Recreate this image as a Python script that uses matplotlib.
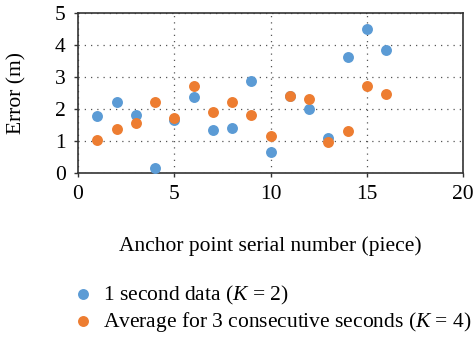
import matplotlib
matplotlib.use("Agg")
import matplotlib.pyplot as plt
from matplotlib.ticker import MultipleLocator

anchor = list(range(1, 17))
one_second = [1.79, 2.22, 1.82, 0.16, 1.64, 2.38, 1.35, 1.40, 2.86, 0.67, 2.39, 1.99, 1.10, 3.63, 4.48, 3.85]
avg_three = [1.04, 1.37, 1.56, 2.22, 1.72, 2.70, 1.90, 2.23, 1.80, 1.14, 2.39, 2.32, 0.97, 1.32, 2.70, 2.45]

plt.rcParams['font.family'] = ['Liberation Serif', 'DejaVu Serif']
plt.rcParams['mathtext.fontset'] = 'custom'
plt.rcParams['mathtext.it'] = 'Liberation Serif:italic'
plt.rcParams['mathtext.rm'] = 'Liberation Serif'

fig = plt.figure(figsize=(4.74, 3.38), dpi=100)
ax = fig.add_axes([78/474, 1 - 173/338, (463-78)/474, (173-12.7)/338])

blue = '#5B9BD5'
orange = '#ED7D31'
ax.scatter(anchor, one_second, s=62, color=blue, zorder=3, linewidths=0,
           label='1 second data ($K$ = 2)')
ax.scatter(anchor, avg_three, s=62, color=orange, zorder=3, linewidths=0,
           label='Average for 3 consecutive seconds ($K$ = 4)')

ax.set_xlim(0, 20)
ax.set_ylim(0, 5)
ax.xaxis.set_major_locator(MultipleLocator(5))
ax.yaxis.set_major_locator(MultipleLocator(1))
ax.grid(True, linestyle=(0, (1, 4)), color='#555555', linewidth=0.9)
for sp in ax.spines.values():
    sp.set_color('#333333')
    sp.set_linewidth(1.2)
ax.tick_params(axis='both', labelsize=15.5, length=3, width=1, color='#333333')
ax.tick_params(axis='y', pad=6)
ax.tick_params(axis='x', pad=6)

ax.set_ylabel('Error (m)', fontsize=15.5, labelpad=20)
ax.set_xlabel('Anchor point serial number (piece)', fontsize=15.5, labelpad=23)

handles, labels = ax.get_legend_handles_labels()
fig.legend(handles, labels, loc='upper left', bbox_to_anchor=(64/474, 1 - 275/338),
           frameon=False, fontsize=15.5, handletextpad=0.4, labelspacing=0.15,
           handlelength=1.0, scatterpoints=1, borderaxespad=0)

fig.savefig('out.png', dpi=100)
